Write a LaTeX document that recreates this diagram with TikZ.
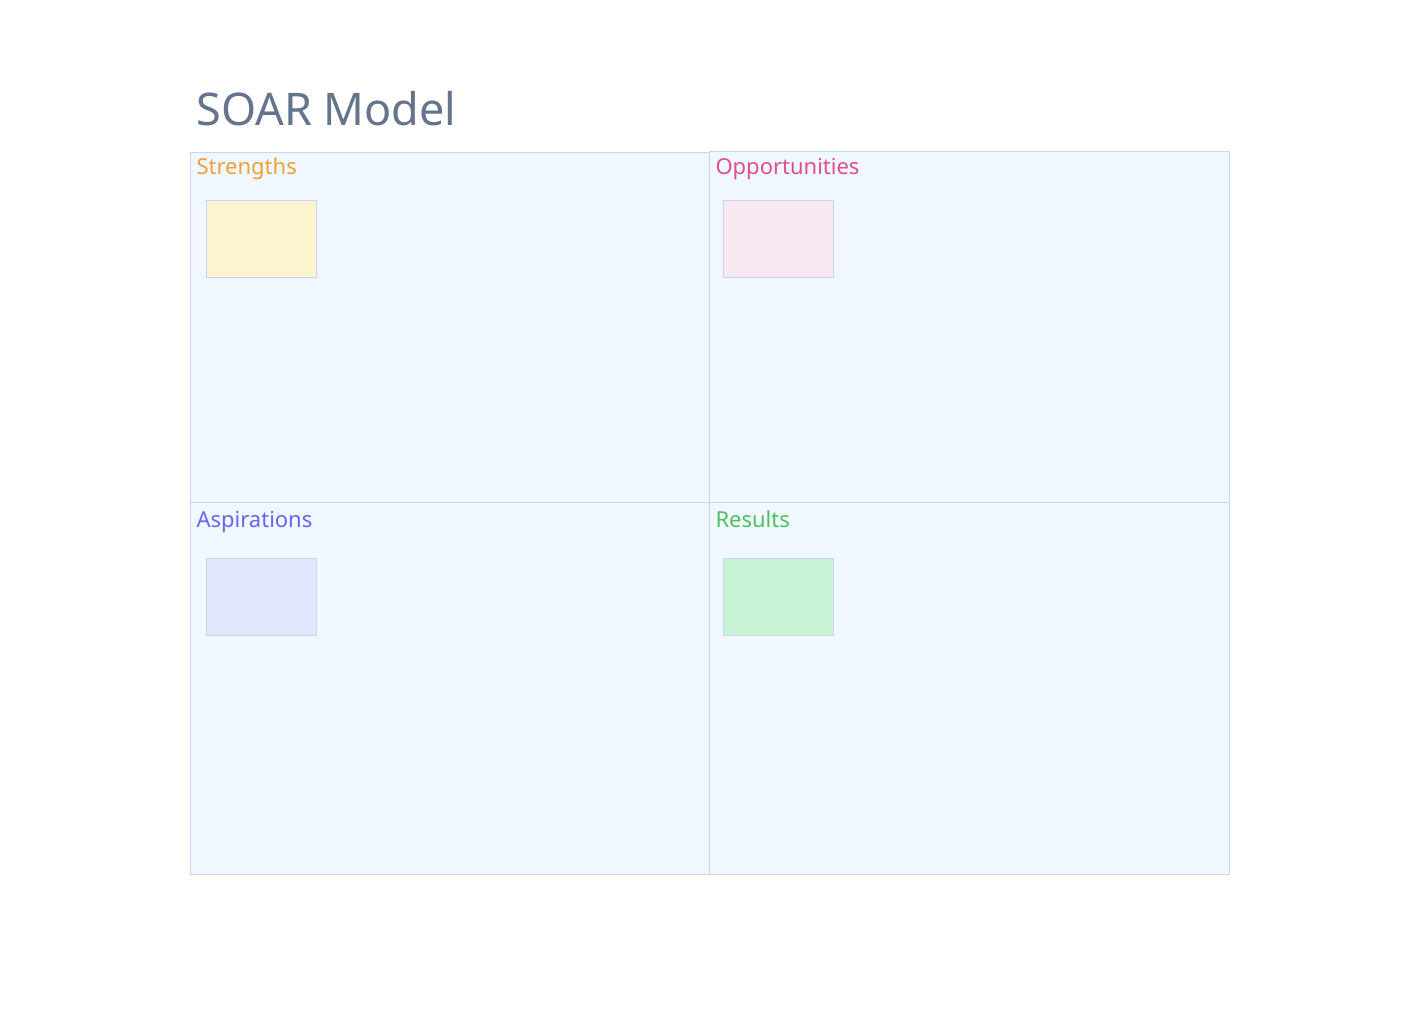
\documentclass[tikz,border=0pt]{standalone}
\usepackage{fontspec}
\setmainfont{Noto Sans}
\usepackage{xcolor}
\definecolor{quadfill}{HTML}{F0F7FE}
\definecolor{quadline}{HTML}{C9D4FB}
\definecolor{titlecol}{HTML}{64748B}
\definecolor{scol}{HTML}{EDA03D}
\definecolor{ocol}{HTML}{DE4F91}
\definecolor{acol}{HTML}{6466EE}
\definecolor{rcol}{HTML}{4CC160}
\definecolor{sfill}{HTML}{FCF3CF}
\definecolor{ofill}{HTML}{F7E8F2}
\definecolor{afill}{HTML}{E0E6FC}
\definecolor{rfill}{HTML}{C7F2D4}

\begin{document}
\begin{tikzpicture}[x=1pt,y=-1pt,line width=1pt,
	quad/.style={rectangle,draw=quadline,fill=quadfill,anchor=north west,inner sep=0pt,minimum width=519pt,minimum height=#1},
	sticky/.style={rectangle,draw=quadline,fill=#1,anchor=north west,inner sep=0pt,minimum width=110pt,minimum height=77pt},
	label/.style={anchor=base west,inner sep=0pt,font=\fontsize{22}{26}\selectfont,text=#1}]
	\useasboundingbox (0,0) rectangle (1418,1024);
	\node (title) at (196,126) [anchor=base west,inner sep=0pt,text=titlecol,font=\fontsize{45}{54}\selectfont] {SOAR Model};
	% quadrants
	\node (S) at (190,152) [quad=350pt] {};
	\node (O) at (709,151) [quad=351pt,minimum width=520pt] {};
	\node (A) at (190,502) [quad=372pt] {};
	\node (R) at (709,502) [quad=372pt,minimum width=520pt] {};
	% headings
	\node (Slabel) at (196,175) [label=scol] {Strengths};
	\node (Olabel) at (715,175) [label=ocol] {Opportunities};
	\node (Alabel) at (196,527) [label=acol] {Aspirations};
	\node (Rlabel) at (715,527) [label=rcol] {Results};
	% notes
	\node (Snote) at (206,200) [sticky=sfill] {};
	\node (Onote) at (723,200) [sticky=ofill] {};
	\node (Anote) at (206,558) [sticky=afill] {};
	\node (Rnote) at (723,558) [sticky=rfill] {};
\end{tikzpicture}
\end{document}
